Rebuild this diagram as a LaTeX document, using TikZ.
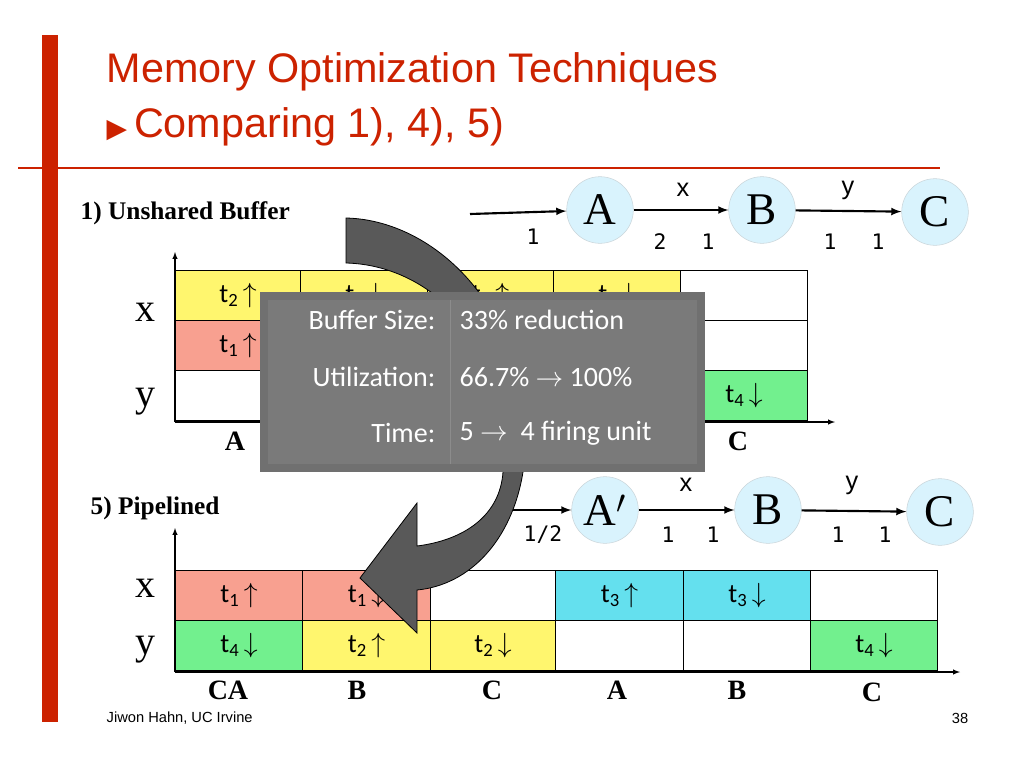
\documentclass[tikz,border=0pt]{standalone}
\usepackage{fontspec}
\setmainfont{Liberation Serif}
\setsansfont{Liberation Sans}
\newfontfamily\cellf{Carlito}
\newfontfamily\monof{DejaVu Sans Mono}
\newfontfamily\dvs{DejaVu Sans}
\newcommand{\tk}[2]{t\textsubscript{#1}\,$#2$}
\begin{document}
\begin{tikzpicture}[x=0.75pt,y=-0.75pt,
  cellbox/.style={draw=black,line width=0.8pt,minimum width=#1*0.75pt,minimum height=37.5pt,anchor=north west,inner sep=0pt,font=\cellf\fontsize{20}{20}\selectfont},
  actor/.style={circle,draw=cyan!20!gray!40,fill=cyan!15,minimum size=50pt,inner sep=0pt,font=\rmfamily\fontsize{34}{34}\selectfont},
  flow/.style={-latex,line width=1.6pt},
  num/.style={font=\monof\fontsize{16}{16}\selectfont},
  chan/.style={font=\sffamily\fontsize{19}{19}\selectfont},
  axis/.style={-latex,line width=0.8pt},
  tlab/.style={font=\rmfamily\bfseries\fontsize{19}{19}\selectfont},
  blab/.style={font=\rmfamily\bfseries\fontsize{21}{21}\selectfont},
  rowlab/.style={font=\rmfamily\fontsize{30}{30}\selectfont},
  ov/.style={text=white,font=\cellf\fontsize{21}{21}\selectfont}]
\useasboundingbox (0,0) rectangle (1024,768);
\definecolor{ttl}{HTML}{CC2200}
\definecolor{cy}{HTML}{FFF66E}
\definecolor{cp}{HTML}{F8A090}
\definecolor{cg}{HTML}{72F08E}
\definecolor{cc}{HTML}{64E0EE}
% frame
\fill[ttl] (42,35) rectangle (58,722);
\draw[ttl,line width=1.5pt] (18,168) -- (940,168);
\node[anchor=west,text=ttl,font=\sffamily\fontsize{31}{31}\selectfont] (t1) at (102,72) {Memory Optimization Techniques};
\node[anchor=west,text=ttl,font=\sffamily\fontsize{31}{31}\selectfont] (t2) at (102,127) {{\dvs\fontsize{20}{20}\selectfont ▶}\,Comparing 1), 4), 5)};
\node[anchor=west,font=\sffamily\fontsize{11}{11}\selectfont] (ft) at (102,718) {Jiwon Hahn, UC Irvine};
\node[font=\sffamily\fontsize{11}{11}\selectfont] (pg) at (960,718) {38};
% top graph
\node[tlab,anchor=west] (l1) at (76,213) {1) Unshared Buffer};
\node[actor] (A) at (600,210) {A};
\node[actor] (B) at (762,210) {B};
\node[actor] (C) at (935,212) {C};
\coordinate (in1) at (470,214);
\draw[flow] (in1) -- (A);
\draw[flow] (A) -- (B);
\draw[flow] (B) -- (C);
\node[num] at (533,237) {1};
\node[num] at (660,242) {2};
\node[num] at (708,242) {1};
\node[num] at (830,242) {1};
\node[num] at (878,242) {1};
\node[chan] at (683,190) {x};
\node[chan] at (848,190) {y};
% top chart
\node[cellbox=125,fill=cy] (a1) at (175,270) {\tk{2}{\uparrow}};
\node[cellbox=127,fill=cy] (a2) at (300,270) {\tk{2}{\downarrow}};
\node[cellbox=126,fill=cy] (a3) at (427,270) {\tk{3}{\uparrow}};
\node[cellbox=127,fill=cy] (a4) at (553,270) {\tk{3}{\downarrow}};
\node[cellbox=127,fill=white] (a5) at (680,270) {};
\node[cellbox=125,fill=cp] (b1) at (175,320) {\tk{1}{\uparrow}};
\node[cellbox=127,fill=cp] (b2) at (300,320) {};
\node[cellbox=126,fill=white] (b3) at (427,320) {};
\node[cellbox=127,fill=white] (b4) at (553,320) {};
\node[cellbox=127,fill=white] (b5) at (680,320) {};
\node[cellbox=125,fill=white] (c1) at (175,370) {};
\node[cellbox=127,fill=white] (c2) at (300,370) {};
\node[cellbox=126,fill=white] (c3) at (427,370) {};
\node[cellbox=127,fill=white] (c4) at (553,370) {};
\node[cellbox=127,fill=cg] (c5) at (680,370) {\tk{4}{\downarrow}};
\coordinate (o1) at (175,422);
\coordinate (yt1) at (175,252);
\coordinate (xt1) at (835,422);
\draw[axis] (o1) -- (yt1);
\draw[axis] (o1) -- (xt1);
\node[rowlab] at (145,312) {x};
\node[rowlab] at (145,402) {y};
\node[blab] at (235,441) {A};
\node[blab] at (738,441) {C};
% bottom graph
\node[tlab,anchor=west] (l5) at (86,508) {5) Pipelined};
\node[actor] (A2) at (605,510) {A$'$};
\node[actor] (B2) at (768,510) {B};
\node[actor] (C2) at (940,512) {C};
\coordinate (in2) at (500,510);
\draw[flow] (in2) -- (A2);
\draw[flow] (A2) -- (B2);
\draw[flow] (B2) -- (C2);
\node[num] at (543,535) {1/2};
\node[num] at (668,535) {1};
\node[num] at (713,535) {1};
\node[num] at (838,535) {1};
\node[num] at (885,535) {1};
\node[chan] at (686,485) {x};
\node[chan] at (852,485) {y};
% bottom chart
\node[cellbox=127,fill=cp] (d1) at (175,570) {\tk{1}{\uparrow}};
\node[cellbox=128,fill=cp] (d2) at (302,570) {\tk{1}{\downarrow}};
\node[cellbox=125,fill=white] (d3) at (430,570) {};
\node[cellbox=128,fill=cc] (d4) at (555,570) {\tk{3}{\uparrow}};
\node[cellbox=127,fill=cc] (d5) at (683,570) {\tk{3}{\downarrow}};
\node[cellbox=127,fill=white] (d6) at (810,570) {};
\node[cellbox=127,fill=cg] (e1) at (175,620) {\tk{4}{\downarrow}};
\node[cellbox=128,fill=cy] (e2) at (302,620) {\tk{2}{\uparrow}};
\node[cellbox=125,fill=cy] (e3) at (430,620) {\tk{2}{\downarrow}};
\node[cellbox=128,fill=white] (e4) at (555,620) {};
\node[cellbox=127,fill=white] (e5) at (683,620) {};
\node[cellbox=127,fill=cg] (e6) at (810,620) {\tk{4}{\downarrow}};
\coordinate (o2) at (175,672);
\coordinate (yt2) at (175,528);
\coordinate (xt2) at (960,672);
\draw[axis] (o2) -- (yt2);
\draw[axis] (o2) -- (xt2);
\node[rowlab] at (145,588) {x};
\node[rowlab] at (145,650) {y};
\node[blab] at (228,690) {CA};
\node[blab] at (357,690) {B};
\node[blab] at (492,690) {C};
\node[blab] at (617,690) {A};
\node[blab] at (737,690) {B};
\node[blab] at (872,692) {C};
% big curved arrow
\filldraw[fill=black!65,draw=black,line width=0.6pt]
  (346,218) .. controls (440,220) and (540,320) .. (523,472)
  .. controls (512,540) and (470,585) .. (417,590)
  -- (417,633) -- (360,578) -- (417,503) -- (417,546)
  .. controls (465,540) and (500,515) .. (503,472)
  .. controls (512,340) and (430,265) .. (346,263) -- cycle;
% overlay
\fill[black!56] (260,292) rectangle (705,472);
\fill[black!52] (268,300) rectangle (697,464);
\draw[black!45,line width=0.6pt] (450,300) -- (450,464);
\node[ov,anchor=east] (k1) at (440,320) {Buffer Size:};
\node[ov,anchor=east] (k2) at (440,377) {Utilization:};
\node[ov,anchor=east] (k3) at (440,433) {Time:};
\node[ov,anchor=west] (v1) at (455,320) {33\% reduction};
\node[ov,anchor=west] (v2) at (455,377) {66.7\% $\rightarrow$ 100\%};
\node[ov,anchor=west] (v3) at (455,433) {5 $\rightarrow$\ \ 4 firing unit};
\end{tikzpicture}
\end{document}
